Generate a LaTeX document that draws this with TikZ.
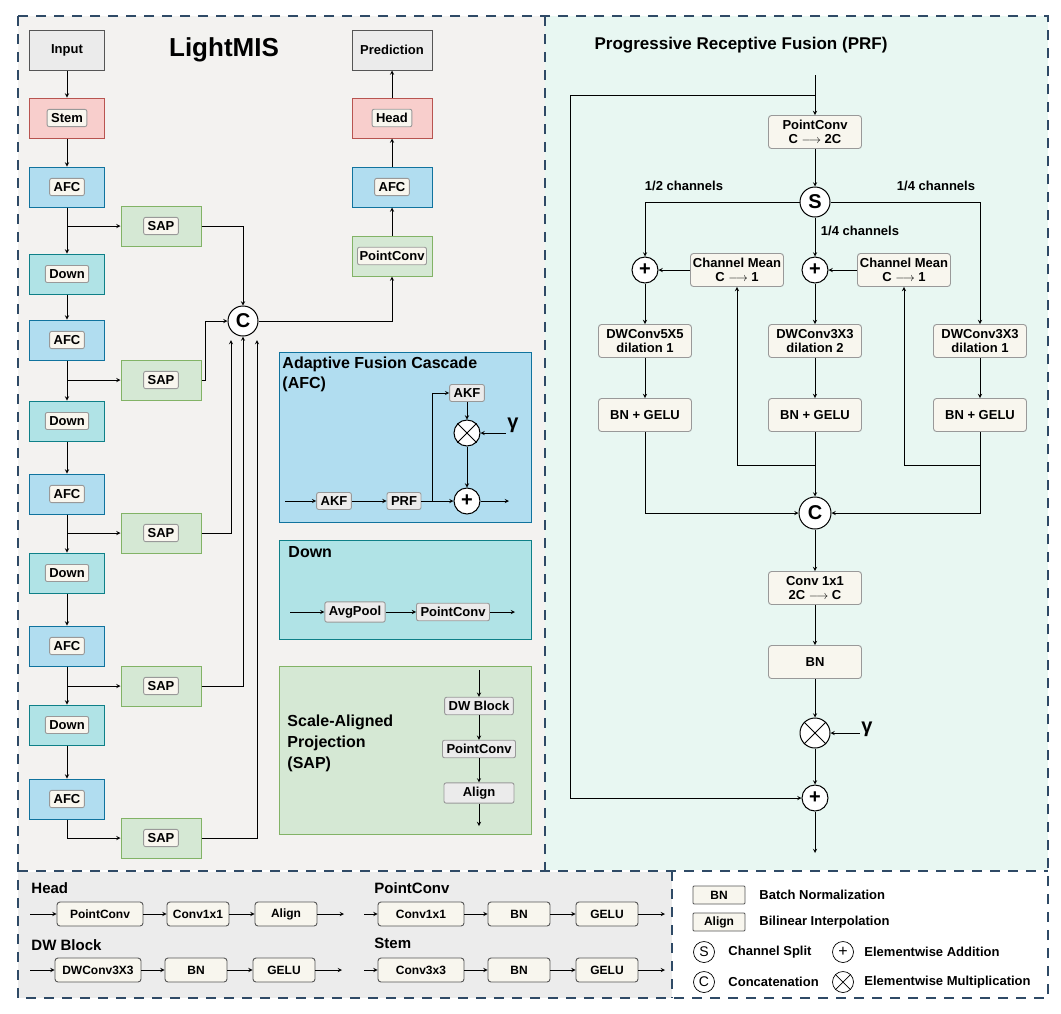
\documentclass[tikz,border=0pt]{standalone}
\usepackage{fontspec}
\setmainfont{Liberation Sans}
\usepackage{tikz}
\usetikzlibrary{arrows,shapes,calc,positioning}
\definecolor{frame}{HTML}{2F4A66}
\definecolor{bgleft}{HTML}{F3F2F0}
\definecolor{bgright}{HTML}{E8F7F2}
\definecolor{bglow}{HTML}{ECECEC}
\definecolor{cream}{HTML}{F8F6EE}
\definecolor{grayF}{HTML}{EBEBEB}\definecolor{grayD}{HTML}{555555}
\definecolor{redF}{HTML}{F8CECC}\definecolor{redD}{HTML}{B85450}
\definecolor{blueF}{HTML}{B1DDF0}\definecolor{blueD}{HTML}{10739E}
\definecolor{tealF}{HTML}{B0E3E6}\definecolor{tealD}{HTML}{0E8088}
\definecolor{greenF}{HTML}{D5E8D4}\definecolor{greenD}{HTML}{82B366}
\tikzstyle{edge}=[->, >=stealth, line width=0.9pt]
\tikzstyle{stage}=[rectangle, line width=1pt, minimum width=75, minimum height=40]
\tikzstyle{tag}=[rectangle, rounded corners=2, draw=gray!80, fill=cream,
                 inner xsep=4pt, inner ysep=4pt, font=\fontsize{13}{15}\selectfont\bfseries]
\tikzstyle{box}=[rectangle, rounded corners=3, draw=gray!80, fill=cream,
                 align=center, minimum width=93, minimum height=33, inner sep=1pt,
                 font=\fontsize{13}{14}\selectfont\bfseries]
\tikzstyle{op}=[circle, draw, fill=white, line width=1pt, minimum size=26,
                inner sep=0pt, font=\fontsize{20}{20}\selectfont\bfseries]
\tikzstyle{panel}=[rectangle, line width=0.8pt, minimum width=252]
\tikzstyle{txt}=[inner sep=1pt, font=\fontsize{13}{15}\selectfont\bfseries]
\begin{document}
\begin{tikzpicture}[x=1pt, y=-1pt, line width=0.9pt]
\useasboundingbox (0,0) rectangle (1061,1013);
% backgrounds
\fill[bgleft] (18,16) rectangle (545,870);
\fill[bgright] (545,16) rectangle (1048,870);
\fill[bglow] (18,872) rectangle (672,998);
\draw[frame, line width=1.3pt, dash pattern=on 10pt off 8pt]
  (18,16) rectangle (1048,998) (18,871) -- (1048,871) (545,16) -- (545,871)
  (672,871) -- (672,998);

% ---- LightMIS backbone ----
\node[font=\fontsize{26}{28}\selectfont\bfseries] (title) at (224,50) {LightMIS};
\node[stage, draw=grayD, fill=grayF, font=\fontsize{13}{15}\selectfont\bfseries] (inp) at (67,50) {Input};
\foreach \n/\y/\f/\d/\t in {stem/118/redF/redD/Stem, afc1/187/blueF/blueD/AFC,
    down1/274/tealF/tealD/Down, afc2/340/blueF/blueD/AFC, down2/421/tealF/tealD/Down,
    afc3/494/blueF/blueD/AFC, down3/573/tealF/tealD/Down, afc4/646/blueF/blueD/AFC,
    down4/725/tealF/tealD/Down, afc5/799/blueF/blueD/AFC}{
  \node[stage, draw=\d, fill=\f] (\n) at (67,\y) {};
  \node[tag] at (\n) {\t};
}
\foreach \n/\y in {sap1/226, sap2/380, sap3/533, sap4/686, sap5/838}{
  \node[stage, minimum width=80, draw=greenD, fill=greenF] (\n) at (161,\y) {};
  \node[tag] at (\n) {SAP};
}
\node[stage, draw=grayD, fill=grayF, minimum width=80, font=\fontsize{13}{15}\selectfont\bfseries] (pred) at (392,50) {Prediction};
\node[stage, minimum width=80, draw=redD, fill=redF] (head) at (392,118) {};
\node[tag] at (head) {Head};
\node[stage, minimum width=80, draw=blueD, fill=blueF] (afcr) at (392,187) {};
\node[tag] at (afcr) {AFC};
\node[stage, minimum width=80, draw=greenD, fill=greenF] (pcr) at (392,256) {};
\node[tag, inner xsep=2pt] at (pcr) {PointConv};
\node[op, minimum size=30] (cc) at (243,321) {C};
\coordinate (j2) at (205,321);
\coordinate (c3) at (231,340);
\coordinate (c5) at (257,340);

\draw[edge] (inp) -- (stem);
\draw[edge] (stem) -- (afc1);
\draw[edge] (afc1) -- (down1);
\draw[edge] (down1) -- (afc2);
\draw[edge] (afc2) -- (down2);
\draw[edge] (down2) -- (afc3);
\draw[edge] (afc3) -- (down3);
\draw[edge] (down3) -- (afc4);
\draw[edge] (afc4) -- (down4);
\draw[edge] (down4) -- (afc5);
\foreach \a/\s in {afc1/sap1, afc2/sap2, afc3/sap3, afc4/sap4, afc5/sap5}
  \draw[edge] (\a) |- (\s.west);
\draw[edge] (sap1) -| (cc);
\draw[edge] (sap2.east) -| (j2) -- (cc.west);
\draw[edge] (sap3.east) -| (c3);
\draw[edge] (sap4) -| (cc.south);
\draw[edge] (sap5.east) -| (c5);
\draw[edge] (cc) -| (pcr);
\draw[edge] (pcr) -- (afcr);
\draw[edge] (afcr) -- (head);
\draw[edge] (head) -- (pred);

% ---- AFC panel ----
\node[panel, draw=blueD, fill=blueF, minimum height=170] (pafc) at (405,437) {};
\node[anchor=north west, align=left, inner sep=0pt, font=\fontsize{16}{20}\selectfont\bfseries]
  at (282,356) {Adaptive Fusion Cascade\\(AFC)};
\node[tag, fill=grayF] (akf1) at (334,501) {AKF};
\node[tag, fill=grayF] (prf) at (404,501) {PRF};
\node[tag, fill=grayF] (akf2) at (467,393) {AKF};
\node[op] (addA) at (467,501) {+};
\node[op] (mulA) at (467,433) {};
\draw (mulA.45) -- (mulA.225) (mulA.135) -- (mulA.315);
\node[txt, font=\fontsize{20}{20}\selectfont\bfseries] (gA) at (513,425) {γ};
\coordinate (inA) at (285,501);
\coordinate (outA) at (509,501);
\coordinate (kA) at (432,501);
\draw[edge] (inA) -- (akf1);
\draw[edge] (akf1) -- (prf);
\draw[edge] (prf) -- (addA);
\draw[edge] (kA) |- (akf2);
\draw[edge] (akf2) -- (mulA);
\draw[edge] (gA.west |- mulA) -- (mulA);
\draw[edge] (mulA) -- (addA);
\draw[edge] (addA) -- (outA);

% ---- Down panel ----
\node[panel, draw=tealD, fill=tealF, minimum height=99] (pdown) at (405,590) {};
\node[anchor=north west, inner sep=0pt, font=\fontsize{16}{18}\selectfont\bfseries] at (288,546) {Down};
\node[tag, fill=grayF] (pool) at (355,612) {AvgPool};
\node[tag, fill=grayF] (pcd) at (453,612) {PointConv};
\coordinate (inD) at (290,612);
\coordinate (outD) at (515,612);
\draw[edge] (inD) -- (pool);
\draw[edge] (pool) -- (pcd);
\draw[edge] (pcd) -- (outD);

% ---- SAP panel ----
\node[panel, draw=greenD, fill=greenF, minimum height=168] (psap) at (405,750) {};
\node[anchor=west, align=left, inner sep=0pt, font=\fontsize{16}{21}\selectfont\bfseries]
  at (287,743) {Scale-Aligned\\Projection\\(SAP)};
\node[tag, fill=grayF] (dwb) at (479,706) {DW Block};
\node[tag, fill=grayF] (pcs) at (479,749) {PointConv};
\node[tag, fill=grayF, minimum width=70] (aln) at (479,793) {Align};
\coordinate (inS) at (479,670);
\coordinate (outS) at (479,826);
\draw[edge] (inS) -- (dwb);
\draw[edge] (dwb) -- (pcs);
\draw[edge] (pcs) -- (aln);
\draw[edge] (aln) -- (outS);

% ---- PRF ----
\node[font=\fontsize{17}{19}\selectfont\bfseries] (ptitle) at (741,45) {Progressive Receptive Fusion (PRF)};
\node[box] (pc) at (815,132) {PointConv\\C $\longrightarrow$ 2C};
\node[op, minimum size=30] (split) at (815,202) {S};
\node[op] (add1) at (645,270) {+};
\node[op] (add2) at (815,270) {+};
\node[box] (cm1) at (737,270) {Channel Mean\\C $\longrightarrow$ 1};
\node[box] (cm2) at (904,270) {Channel Mean\\C $\longrightarrow$ 1};
\node[box] (dw1) at (645,341) {DWConv5X5\\dilation 1};
\node[box] (dw2) at (815,341) {DWConv3X3\\dilation 2};
\node[box] (dw3) at (980,341) {DWConv3X3\\dilation 1};
\node[box] (bg1) at (645,415) {BN + GELU};
\node[box] (bg2) at (815,415) {BN + GELU};
\node[box] (bg3) at (980,415) {BN + GELU};
\node[op, minimum size=32] (cat) at (815,513) {C};
\node[box] (c11) at (815,588) {Conv 1x1\\2C $\longrightarrow$ C};
\node[box] (bn) at (815,662) {BN};
\node[op, minimum size=30] (mul) at (815,733) {};
\draw (mul.45) -- (mul.225) (mul.135) -- (mul.315);
\node[txt, font=\fontsize{20}{20}\selectfont\bfseries] (gP) at (867,729) {γ};
\node[op] (res) at (815,798) {+};
\node[txt] at (684,186) {1/2 channels};
\node[txt] at (936,186) {1/4 channels};
\node[txt] at (860,231) {1/4 channels};
\coordinate (inP) at (815,75);
\coordinate (byA) at (815,95);
\coordinate (byB) at (570,95);
\coordinate (outP) at (815,853);
\coordinate (f2) at (815,465);
\coordinate (f3) at (980,465);
\draw[edge] (inP) -- (pc);
\draw (byA) -- (byB);
\draw[edge] (byB) |- (res);
\draw[edge] (pc) -- (split);
\draw[edge] (split) -| (add1);
\draw[edge] (split) -- (add2);
\draw[edge] (split) -| (dw3);
\draw[edge] (cm1) -- (add1);
\draw[edge] (cm2) -- (add2);
\draw[edge] (add1) -- (dw1);
\draw[edge] (add2) -- (dw2);
\draw[edge] (dw1) -- (bg1);
\draw[edge] (dw2) -- (bg2);
\draw[edge] (dw3) -- (bg3);
\draw[edge] (bg1) |- (cat);
\draw[edge] (bg2) -- (cat);
\draw[edge] (bg3) |- (cat);
\draw[edge] (f2) -| (cm1);
\draw[edge] (f3) -| (cm2);
\draw[edge] (cat) -- (c11);
\draw[edge] (c11) -- (bn);
\draw[edge] (bn) -- (mul);
\draw[edge] (gP.west |- mul) -- (mul);
\draw[edge] (mul) -- (res);
\draw[edge] (res) -- (outP);

% ---- bottom legend ----
\tikzstyle{lg}=[rectangle, rounded corners=3, draw=grayD, fill=cream,
                minimum height=24, minimum width=62, inner sep=2pt,
                font=\fontsize{12}{14}\selectfont\bfseries]
\node[txt, anchor=west, font=\fontsize{15}{17}\selectfont\bfseries] at (30,888) {Head};
\node[txt, anchor=west, font=\fontsize{15}{17}\selectfont\bfseries] at (30,945) {DW Block};
\node[txt, anchor=west, font=\fontsize{15}{17}\selectfont\bfseries] at (373,888) {PointConv};
\node[txt, anchor=west, font=\fontsize{15}{17}\selectfont\bfseries] at (373,943) {Stem};
\foreach \r/\y/\a/\b/\c/\xa/\xb in {h/914/PointConv/Conv1x1/Align/30/100,
    w/970/DWConv3X3/BN/GELU/30/98, p/914/Conv1x1/BN/GELU/364/421, s/970/Conv3x3/BN/GELU/364/421}{
  \node[lg, minimum width=86] (\r a) at (\xb,\y) {\a};
  \node[lg] (\r b) at ($(\r a)+(98,0)$) {\b};
  \node[lg] (\r c) at ($(\r b)+(88,0)$) {\c};
  \coordinate (\r i) at (\xa,\y);
  \coordinate (\r o) at ($(\r c)+(58,0)$);
  \draw[edge] (\r i) -- (\r a);
  \draw[edge] (\r a) -- (\r b);
  \draw[edge] (\r b) -- (\r c);
  \draw[edge] (\r c) -- (\r o);
}
\node[lg, minimum width=52, minimum height=18, rounded corners=1] (kbn) at (719,895) {BN};
\node[lg, minimum width=52, minimum height=18, rounded corners=1] (kal) at (719,922) {Align};
\node[txt, anchor=west] at (758,895) {Batch Normalization};
\node[txt, anchor=west] at (758,922) {Bilinear Interpolation};
\node[circle, draw, line width=0.7pt, minimum size=21, inner sep=0pt, font=\fontsize{14}{14}\selectfont] (ks) at (704,952) {S};
\node[circle, draw, line width=0.7pt, minimum size=21, inner sep=0pt, font=\fontsize{14}{14}\selectfont] (kc) at (704,982) {C};
\node[circle, draw, line width=0.7pt, minimum size=21, inner sep=0pt, font=\fontsize{16}{16}\selectfont] (ka) at (843,952) {+};
\node[circle, draw, line width=0.7pt, minimum size=21, inner sep=0pt] (km) at (843,982) {};
\draw[line width=0.7pt] (km.45) -- (km.225) (km.135) -- (km.315);
\node[txt, anchor=west] at (727,952) {Channel Split};
\node[txt, anchor=west] at (727,982) {Concatenation};
\node[txt, anchor=west] at (863,952) {Elementwise Addition};
\node[txt, anchor=west] at (863,982) {Elementwise Multiplication};
\end{tikzpicture}
\end{document}
